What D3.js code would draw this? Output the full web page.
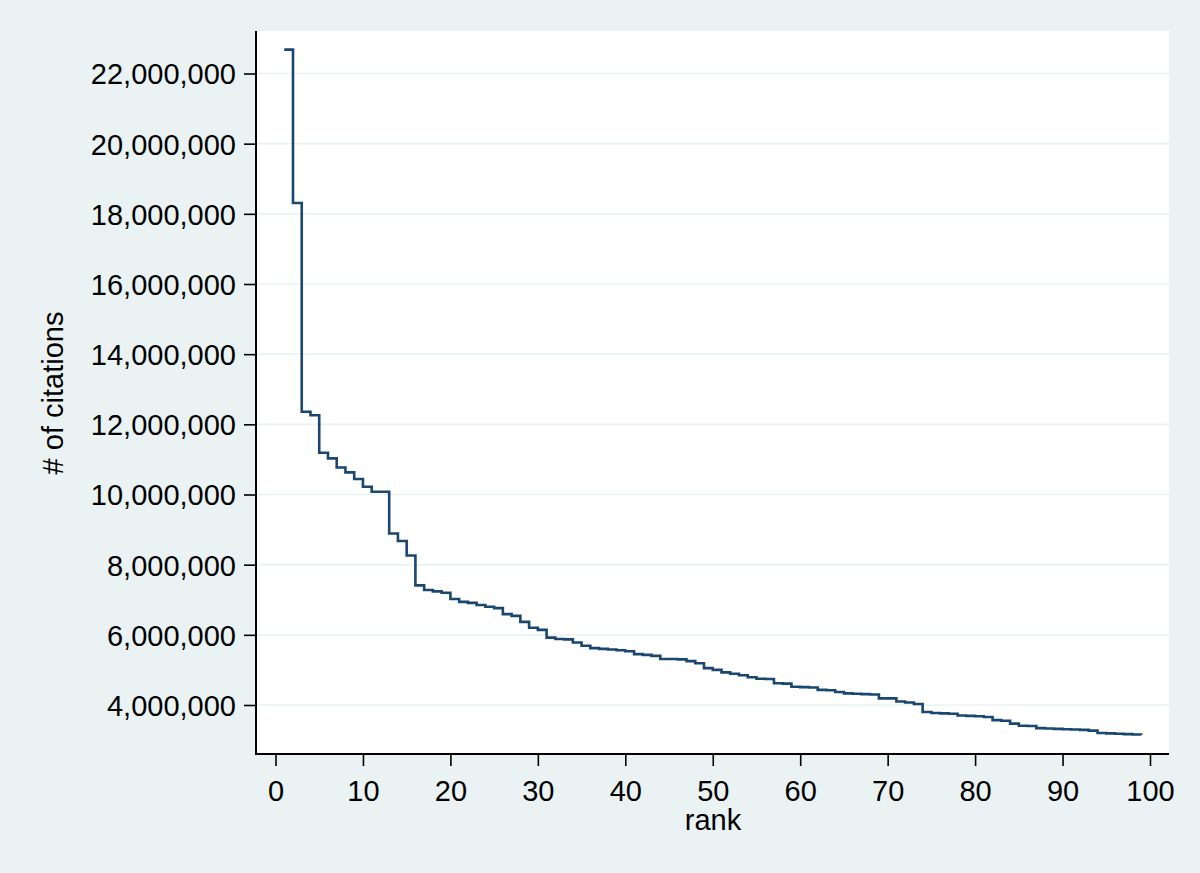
<!DOCTYPE html>
<html>
<head>
<meta charset="utf-8">
<script src="https://cdn.jsdelivr.net/npm/d3@7"></script>
<style>
  html, body { margin: 0; padding: 0; background: #eaf2f3; }
  svg { display: block; }
  text { font-family: "Liberation Sans", Arial, sans-serif; }
</style>
</head>
<body>
<svg id="chart" width="1200" height="873"></svg>
<script>
// ranks 1..99
const ranks = d3.range(1, 100);
// citations (millions)
const citationsM = [
  22.68, 18.31, 12.36, 12.26, 11.19, 11.03, 10.77, 10.63, 10.44, 10.22,
  10.08, 10.08, 8.89, 8.675, 8.26, 7.41, 7.28, 7.24, 7.20, 7.02,
  6.94, 6.91, 6.85, 6.80, 6.76, 6.59, 6.54, 6.37, 6.20, 6.14,
  5.92, 5.88, 5.87, 5.78, 5.69, 5.62, 5.60, 5.58, 5.56, 5.53,
  5.45, 5.43, 5.40, 5.31, 5.31, 5.30, 5.25, 5.19, 5.05, 5.00,
  4.93, 4.89, 4.85, 4.79, 4.75, 4.74, 4.62, 4.61, 4.52, 4.51,
  4.50, 4.43, 4.42, 4.37, 4.33, 4.32, 4.31, 4.30, 4.19, 4.19,
  4.10, 4.07, 4.03, 3.80, 3.77, 3.76, 3.75, 3.70, 3.69, 3.68,
  3.66, 3.57, 3.55, 3.47, 3.41, 3.40, 3.34, 3.33, 3.32, 3.31,
  3.30, 3.29, 3.27, 3.20, 3.19, 3.18, 3.17, 3.16, 3.15
];
const yTicks = [4e6, 6e6, 8e6, 10e6, 12e6, 14e6, 16e6, 18e6, 20e6, 22e6];
const xTicks = [0, 10, 20, 30, 40, 50, 60, 70, 80, 90, 100];
const xTitle = "rank";
const yTitle = "# of citations";

const data = ranks.map((r, i) => ({ rank: r, value: citationsM[i] * 1e6 }));

const svg = d3.select("#chart");
const plot = { left: 257, right: 1169, top: 31, bottom: 753 };

svg.append("rect").attr("x", 0).attr("y", 0).attr("width", 1200).attr("height", 873).attr("fill", "#eaf2f3");
svg.append("rect")
  .attr("x", plot.left).attr("y", plot.top)
  .attr("width", plot.right - plot.left).attr("height", plot.bottom - plot.top)
  .attr("fill", "#ffffff");

const x = d3.scaleLinear().domain([0, 100]).range([275.5, 1150]);
const y = d3.scaleLinear().domain([4e6, 22e6]).range([705, 73.5]);

// gridlines
svg.append("g").selectAll("line").data(yTicks).join("line")
  .attr("x1", plot.left).attr("x2", plot.right)
  .attr("y1", d => y(d)).attr("y2", d => y(d))
  .attr("stroke", "#eaf2f3").attr("stroke-width", 1.6);

// y axis
const yAxis = svg.append("g").attr("transform", `translate(256,0)`)
  .call(d3.axisLeft(y).tickValues(yTicks).tickFormat(d3.format(",")).tickSize(12).tickPadding(8));
yAxis.select(".domain").attr("d", `M0,${plot.top}V${plot.bottom + 1}`).attr("stroke", "#000").attr("stroke-width", 2);
yAxis.selectAll(".tick line").attr("stroke", "#000").attr("stroke-width", 1.6);
yAxis.selectAll(".tick text").attr("font-size", 29).attr("fill", "#000")
  .attr("font-family", "'Liberation Sans', Arial, sans-serif").attr("dy", "0.36em");

// x axis
const xAxis = svg.append("g").attr("transform", `translate(0,754)`)
  .call(d3.axisBottom(x).tickValues(xTicks).tickFormat(d3.format("d")).tickSize(12).tickPadding(14));
xAxis.select(".domain").attr("d", `M255,0H${plot.right}`).attr("stroke", "#000").attr("stroke-width", 2);
xAxis.selectAll(".tick line").attr("stroke", "#000").attr("stroke-width", 1.6);
xAxis.selectAll(".tick text").attr("font-size", 29).attr("fill", "#000")
  .attr("font-family", "'Liberation Sans', Arial, sans-serif").attr("dy", "0.71em");

// titles
svg.append("text").attr("x", 713).attr("y", 830).attr("text-anchor", "middle")
  .attr("font-size", 29).attr("fill", "#000").text(xTitle);
svg.append("text").attr("transform", "translate(63,393) rotate(-90)").attr("text-anchor", "middle")
  .attr("font-size", 29).attr("fill", "#000").text(yTitle);

// step line
const line = d3.line().x(d => x(d.rank)).y(d => y(d.value)).curve(d3.curveStepAfter);
svg.append("path").datum(data)
  .attr("d", line).attr("fill", "none")
  .attr("stroke", "#1a476f").attr("stroke-width", 2.6).attr("stroke-linejoin", "miter");
</script>
</body>
</html>
